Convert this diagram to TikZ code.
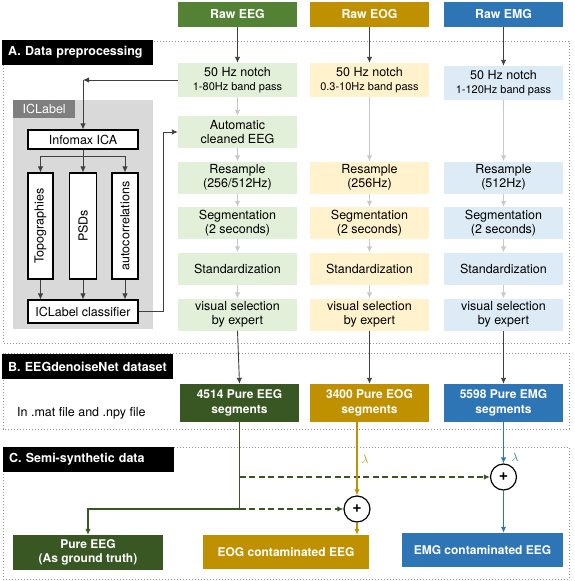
\documentclass[tikz,border=0pt]{standalone}
\usepackage{fontspec}
\setmainfont{TeX Gyre Heros}
\usetikzlibrary{arrows.meta}

\definecolor{rawgreen}{HTML}{548235}
\definecolor{puregreen}{HTML}{385723}
\definecolor{eoggold}{HTML}{BF9000}
\definecolor{emgblue}{HTML}{2E75B6}
\definecolor{EEGfill}{HTML}{E2F0D9}
\definecolor{EOGfill}{HTML}{FFF2CC}
\definecolor{EMGfill}{HTML}{DDEBF7}
\definecolor{iclgray}{HTML}{D9D9D9}
\definecolor{taggray}{HTML}{7F7F7F}
\definecolor{linegray}{HTML}{404040}
\definecolor{softgray}{HTML}{C8C8C8}

\begin{document}
\begin{tikzpicture}[x=1pt, y=-1pt,
    every node/.style={font=\fontsize{12.5}{14.5}\selectfont, inner sep=0pt, align=center},
    stepbox/.style={minimum width=119pt, minimum height=32pt},
    rawbox/.style={minimum width=119pt, minimum height=25pt, text=white,
        font=\fontsize{12.3}{14}\selectfont\bfseries},
    purebox/.style={minimum height=38pt, text=white,
        font=\fontsize{12}{14.5}\selectfont\bfseries},
    seclabel/.style={fill=black, text=white, anchor=north west, align=left,
        minimum height=25pt, inner xsep=6pt, font=\fontsize{12.5}{14}\selectfont\bfseries},
    section/.style={draw=gray!85, line width=1pt, dash pattern=on 1.3pt off 1.7pt},
    iclbox/.style={draw=black, fill=white, line width=1.1pt},
    plus/.style={circle, draw=black, fill=white, line width=1.2pt, minimum size=26pt,
        font=\fontsize{16}{16}\selectfont\bfseries},
    tip/.style={-{Latex[length=6pt, width=5.5pt]}},
    darr/.style={draw=linegray, line width=0.9pt, tip},
    garr/.style={draw=softgray, line width=0.9pt, tip},
    eegline/.style={draw=puregreen, line width=1.8pt},
    eogline/.style={draw=eoggold, line width=1.8pt},
    emgline/.style={draw=emgblue, line width=1.8pt},
]
    \useasboundingbox (0,0) rectangle (575,581);

    % Sections
    \draw[section] (3,41) rectangle (569,343);
    \draw[section] (3,353) rectangle (569,429);
    \draw[section] (3,447) rectangle (569,579);
    \node[seclabel, text width=139pt] (labA) at (2,40) {A. Data preprocessing};
    \node[seclabel, text width=159pt] (labB) at (2,354) {B. EEGdenoiseNet dataset};
    \node[seclabel, text width=159pt] (labC) at (3,447) {C. Semi-synthetic data};

    % Raw signals
    \node[rawbox, fill=rawgreen] (rawEEG) at (237.5,14.5) {Raw EEG};
    \node[rawbox, fill=eoggold] (rawEOG) at (369.5,14.5) {Raw EOG};
    \node[rawbox, fill=emgblue] (rawEMG) at (503.5,14.5) {Raw EMG};

    % Filtering
    \node[stepbox, fill=EEGfill, minimum height=34pt] (notchEEG) at (237.5,80)
        {50 Hz notch\\[-1pt]{\fontsize{11}{13}\selectfont 1-80Hz band pass}};
    \node[stepbox, fill=EOGfill, minimum height=34pt] (notchEOG) at (369.5,80)
        {50 Hz notch\\[-1pt]{\fontsize{11}{13}\selectfont 0.3-10Hz band pass}};
    \node[stepbox, fill=EMGfill, minimum height=34pt] (notchEMG) at (503.5,83)
        {50 Hz notch\\[-1pt]{\fontsize{11}{13}\selectfont 1-120Hz band pass}};
    \node[stepbox, fill=EEGfill] (autoEEG) at (237.5,132) {Automatic\\cleaned EEG};

    % Resampling
    \node[stepbox, fill=EEGfill] (resEEG) at (237.5,177.5) {Resample\\(256/512Hz)};
    \node[stepbox, fill=EOGfill] (resEOG) at (369.5,177.5) {Resample\\(256Hz)};
    \node[stepbox, fill=EMGfill] (resEMG) at (503.5,177.5) {Resample\\(512Hz)};

    % Same three steps in every column
    \foreach \sig/\xc in {EEG/237.5, EOG/369.5, EMG/503.5} {
        \node[stepbox, fill=\sig fill] (seg\sig) at (\xc,223) {Segmentation\\(2 seconds)};
        \node[stepbox, fill=\sig fill] (std\sig) at (\xc,268.5) {Standardization};
        \node[stepbox, fill=\sig fill] (vis\sig) at (\xc,314.5) {visual selection\\by expert};
        \draw[darr] (raw\sig.south) -- (notch\sig.north);
        \draw[garr] (res\sig.south) -- (seg\sig.north);
        \draw[garr] (seg\sig.south) -- (std\sig.north);
        \draw[garr] (std\sig.south) -- (vis\sig.north);
    }
    \draw[garr] (notchEEG.south) -- (autoEEG.north);
    \draw[garr] (autoEEG.south) -- (resEEG.north);
    \draw[garr] (notchEOG.south) -- (resEOG.north);
    \draw[garr] (notchEMG.south) -- (resEMG.north);

    % ICLabel
    \fill[iclgray] (13,100) rectangle (153,329);
    \node[fill=taggray, text=white, anchor=north west, minimum width=62pt,
        minimum height=18pt] (iclTag) at (13,100) {ICLabel};
    \node[iclbox, minimum width=110pt, minimum height=19pt] (ica) at (83,139.5) {Infomax ICA};
    % rotated boxes: east is the top, west the bottom
    \node[iclbox, rotate=90, minimum width=106pt, minimum height=25pt] (topoBox) at (40.5,226) {Topographies};
    \node[iclbox, rotate=90, minimum width=106pt, minimum height=27pt] (psdBox) at (83,226) {PSDs};
    \node[iclbox, rotate=90, minimum width=106pt, minimum height=26pt] (acorrBox) at (125,226) {autocorrelations};
    \node[iclbox, minimum width=110pt, minimum height=23pt] (cls) at (83,311.5) {ICLabel classifier};

    \coordinate (split) at (83,156);
    \coordinate (corner) at (83,80);
    \draw[darr] (notchEEG.west) -- (corner);
    \draw[darr] (corner) -- (ica.north);
    \draw[darr] (ica.south) -- (psdBox.east);
    \draw[linegray, line width=0.9pt] (topoBox.east |- split) -- (acorrBox.east |- split);
    \draw[darr] (topoBox.east |- split) -- (topoBox.east);
    \draw[darr] (acorrBox.east |- split) -- (acorrBox.east);
    \draw[darr] (topoBox.west) -- (topoBox.west |- cls.north);
    \draw[darr] (psdBox.west) -- (psdBox.west |- cls.north);
    \draw[darr] (acorrBox.west) -- (acorrBox.west |- cls.north);
    \draw[darr] (cls.east) -- ++(25,0) |- (autoEEG.west);

    % Dataset
    \node[anchor=west] (files) at (17,413) {In .mat file and .npy file};
    \node[purebox, fill=puregreen, minimum width=119pt] (pureEEG) at (239.5,403) {4514 Pure EEG\\segments};
    \node[purebox, fill=eoggold, minimum width=119pt] (pureEOG) at (369.5,403) {3400 Pure EOG\\segments};
    \node[purebox, fill=emgblue, minimum width=119pt] (pureEMG) at (503.5,403) {5598 Pure EMG\\segments};
    \draw[darr] (visEEG.south) -- (pureEEG.north);
    \draw[darr] (visEOG.south) -- (pureEOG.north);
    \draw[darr] (visEMG.south) -- (pureEMG.north);

    % Mixing
    \node[plus] (plusEOG) at (357,509) {+};
    \node[plus] (plusEMG) at (503.5,477) {+};
    \node[purebox, fill=puregreen, minimum width=150pt, minimum height=35pt] (gtEEG) at (88,552.5)
        {Pure EEG\\(As ground truth)};
    \node[purebox, fill=eoggold, minimum width=166pt, minimum height=34pt] (contEOG) at (286,552)
        {EOG contaminated EEG};
    \node[purebox, fill=emgblue, minimum width=161pt, minimum height=34pt] (contEMG) at (482.5,550)
        {EMG contaminated EEG};
    \node[text=eoggold] (lamEOG) at (365,459) {$\lambda$};
    \node[text=emgblue] (lamEMG) at (515,457) {$\lambda$};

    \draw[eegline, tip] (pureEEG.south) -- (pureEEG.south |- plusEOG) -| (gtEEG.north);
    \draw[eegline, tip, dash pattern=on 6pt off 3.5pt] (pureEEG.south |- plusEOG) -- (plusEOG.west);
    \draw[eegline, tip, dash pattern=on 6pt off 3.5pt] (pureEEG.south |- plusEMG) -- (plusEMG.west);
    \draw[eogline, tip] (plusEOG |- pureEOG.south) -- (plusEOG.north);
    \draw[eogline, tip] (plusEOG.south) -- (plusEOG |- contEOG.north);
    \draw[emgline, tip] (pureEMG.south) -- (plusEMG.north);
    \draw[emgline, tip] (plusEMG.south) -- (plusEMG |- contEMG.north);
\end{tikzpicture}
\end{document}
